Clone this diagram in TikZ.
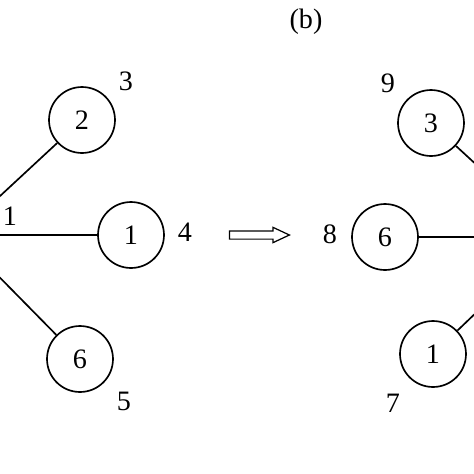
\documentclass[tikz,border=0pt]{standalone}
\usepackage{fontspec}
\setmainfont{Liberation Serif}
\usetikzlibrary{shapes.arrows}

\begin{document}
\begin{tikzpicture}[
    x=0.02cm, y=-0.02cm,
    font=\fontsize{16}{18}\selectfont,
    vertex/.style={
        circle,
        draw,
        line width=0.95pt,
        minimum size=1.32cm,
        inner sep=0pt
    },
    lbl/.style={
        inner sep=0pt
    },
    edge/.style={
        line width=0.95pt
    },
    blockarrow/.style={
        single arrow,
        draw,
        line width=0.7pt,
        inner xsep=0pt,
        inner ysep=0.07cm,
        minimum height=1.2cm,
        single arrow head extend=0.07cm,
        single arrow tip angle=50
    }
]

\clip (0,0) rectangle (474,474);

% =========================
% Titolo
% =========================
\node[lbl] (title) at (306,22) {(b)};

% =========================
% Stella sinistra
% =========================
\node[vertex] (hubL) at (-42,235) {};
\node[vertex] (leftA) at (82,120) {2};
\node[vertex] (leftB) at (131,235) {1};
\node[vertex] (leftC) at (80,359) {6};

\node[lbl] (hubLnum) at (10,216) {1};
\node[lbl] (leftAnum) at (126,81) {3};
\node[lbl] (leftBnum) at (185,232) {4};
\node[lbl] (leftCnum) at (124,401) {5};

\draw[edge] (hubL) -- (leftA);
\draw[edge] (hubL) -- (leftB);
\draw[edge] (hubL) -- (leftC);

% =========================
% Freccia centrale
% =========================
\node[blockarrow] (move) at (255,235) {};

% =========================
% Stella destra
% =========================
\node[vertex] (hubR) at (555,237) {};
\node[vertex] (rightA) at (431,123) {3};
\node[vertex] (rightB) at (385,237) {6};
\node[vertex] (rightC) at (433,354) {1};

\node[lbl] (rightAnum) at (388,83) {9};
\node[lbl] (rightBnum) at (330,234) {8};
\node[lbl] (rightCnum) at (393,403) {7};

\draw[edge] (rightA) -- (hubR);
\draw[edge] (rightB) -- (hubR);
\draw[edge] (rightC) -- (hubR);

\end{tikzpicture}
\end{document}
